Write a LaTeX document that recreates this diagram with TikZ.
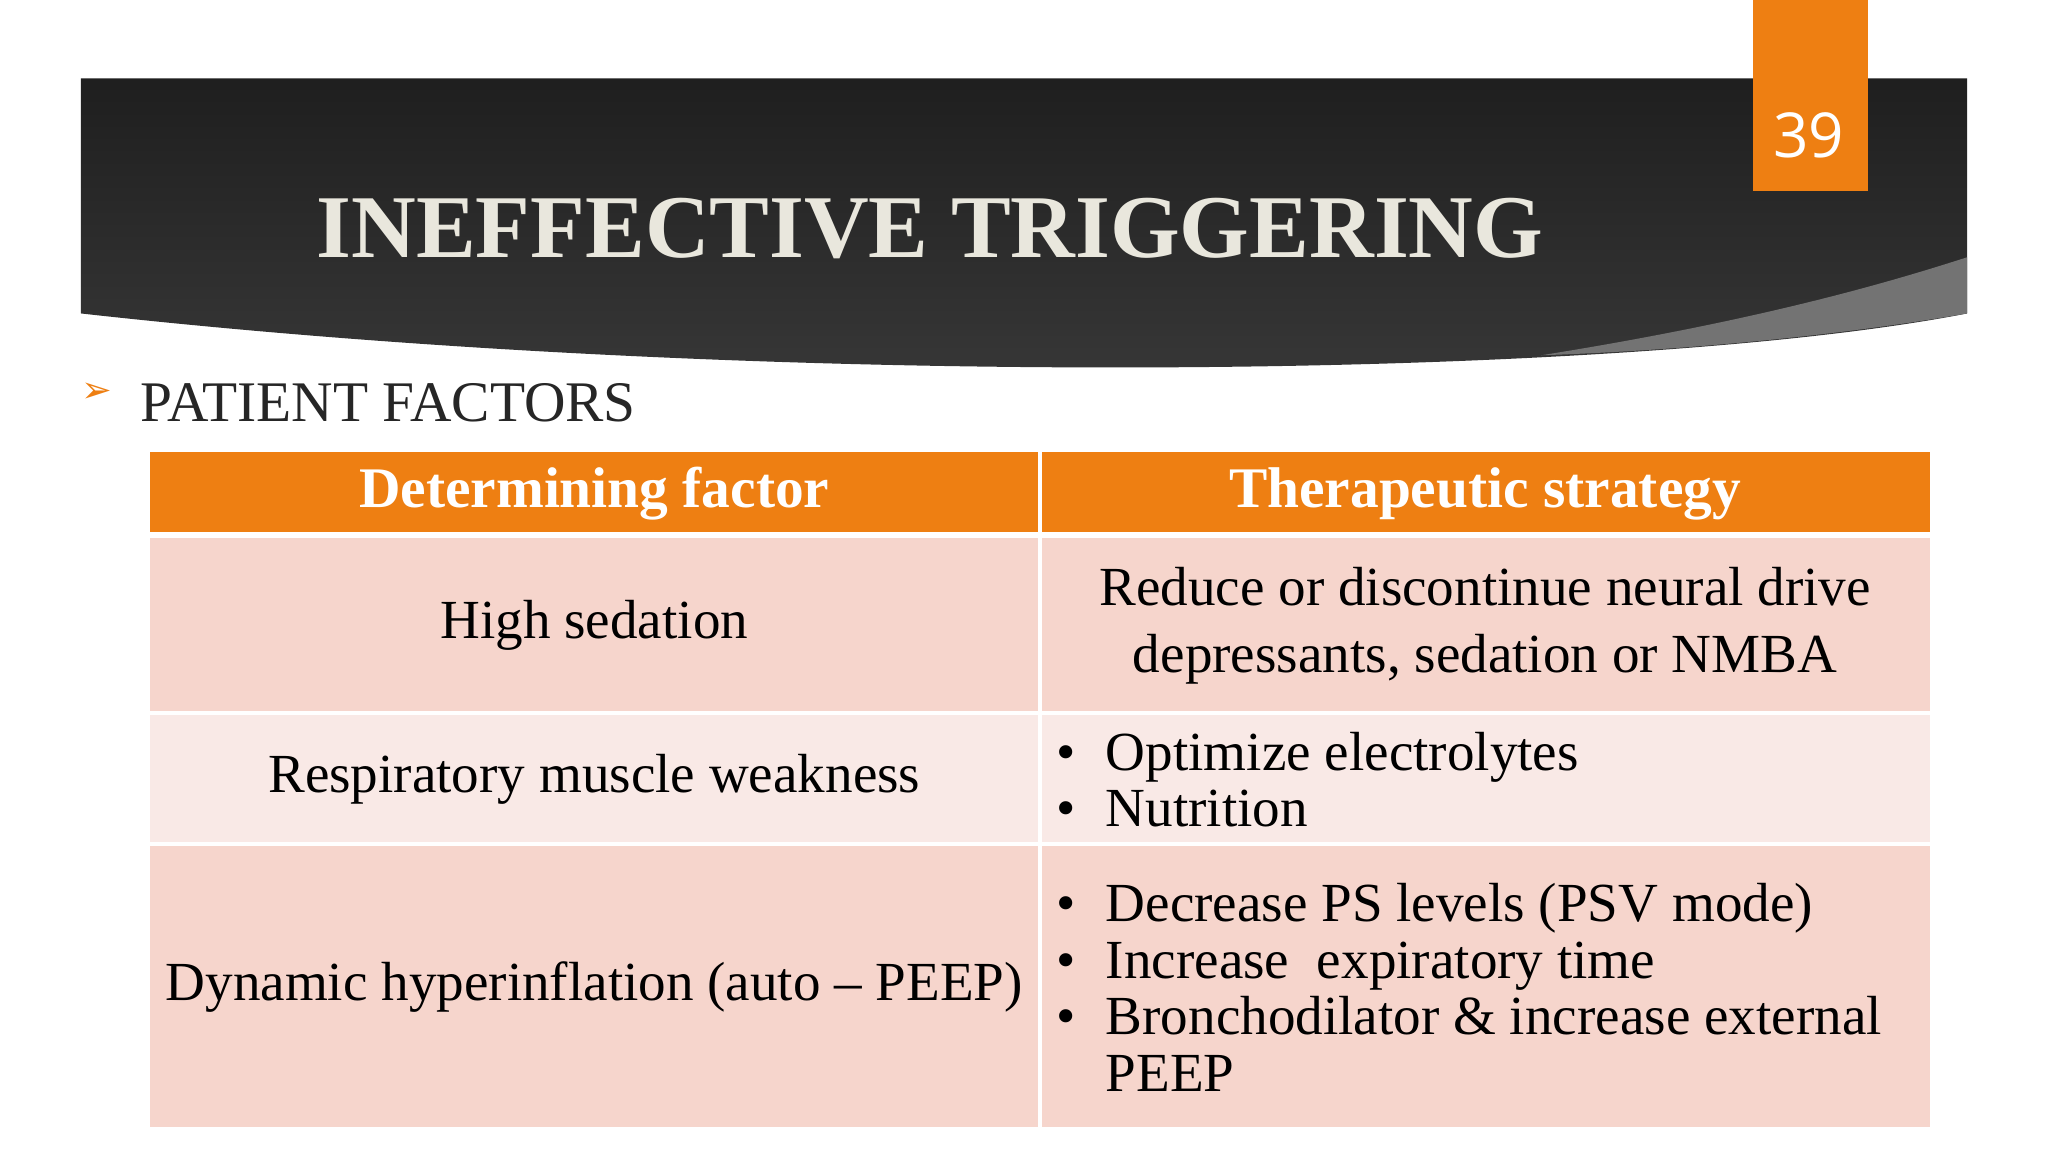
\documentclass[tikz,border=0pt]{standalone}
\usepackage{fontspec}
\setmainfont{Liberation Serif}
\newfontfamily\numfont{Open Sans}
\newfontfamily\dv{DejaVu Sans}
\definecolor{orng}{HTML}{EE7F12}
\definecolor{rowa}{HTML}{F6D5CC}
\definecolor{rowb}{HTML}{F9E9E6}
\definecolor{ttl}{HTML}{E9E7DD}
\newcommand{\bul}{\makebox[10.8pt][l]{•}}
\begin{document}
\begin{tikzpicture}[x=0.01cm,y=-0.01cm,
  cell/.style={font=\fontsize{12}{14.5}\selectfont,align=center},
  hdr/.style={font=\fontsize{12.5}{15}\selectfont\bfseries,text=white},
  blist/.style={font=\fontsize{12}{12.3}\selectfont,align=left,anchor=west,inner sep=0pt}]
\useasboundingbox (0,0) rectangle (1568,882);
\fill[white] (0,0) rectangle (1568,882);
% banner
\shade[top color=black!88,bottom color=black!78] (62,60) -- (1506,60) -- (1506,240)
  .. controls (1250,290) and (600,300) .. (62,240) -- cycle;
\fill[black!55] (1180,272) .. controls (1350,245) and (1450,215) .. (1506,197) -- (1506,240)
  .. controls (1420,255) and (1300,268) .. (1180,272) -- cycle;
\node[font=\fontsize{19.5}{22}\selectfont\bfseries,text=ttl] (title) at (712,175) {INEFFECTIVE TRIGGERING};
% page number
\fill[orng] (1342,0) rectangle (1430,146);
\node[font=\numfont\fontsize{13.5}{16}\selectfont,text=white] (num) at (1385,104) {39};
% subtitle
\node[text=orng,font=\dv\fontsize{8}{10}\selectfont] (arr) at (74,301) {➢};
\node[anchor=west,inner sep=0pt,font=\fontsize{12.5}{15}\selectfont,text=black!85] (pf) at (107,308) {PATIENT FACTORS};
% table
\fill[orng] (115,346) rectangle (1478,408);
\fill[rowa] (115,411) rectangle (1478,546);
\fill[rowb] (115,546) rectangle (1478,646);
\fill[rowa] (115,646) rectangle (1478,863);
\draw[white,line width=1.2pt] (115,409.5) -- (1478,409.5);
\draw[white,line width=0.8pt] (115,546) -- (1478,546) (115,646) -- (1478,646) (796,346) -- (796,863);
\node[hdr] (h1) at (455,378) {Determining factor};
\node[hdr] (h2) at (1137,378) {Therapeutic strategy};
\node[cell] (a1) at (455,479) {High sedation};
\node[cell] (b1) at (1137,479) {Reduce or discontinue neural drive\\depressants, sedation or NMBA};
\node[cell] (a2) at (455,597) {Respiratory muscle weakness};
\node[blist] (b2) at (808,597) {\bul Optimize electrolytes\\\bul Nutrition};
\node[cell] (a3) at (455,756) {Dynamic hyperinflation (auto -- PEEP)};
\node[blist] (b3) at (808,756) {\bul Decrease PS levels (PSV mode)\\\bul Increase\ \ expiratory time\\\bul Bronchodilator \& increase external\\\makebox[10.8pt]{}PEEP};
\end{tikzpicture}
\end{document}
